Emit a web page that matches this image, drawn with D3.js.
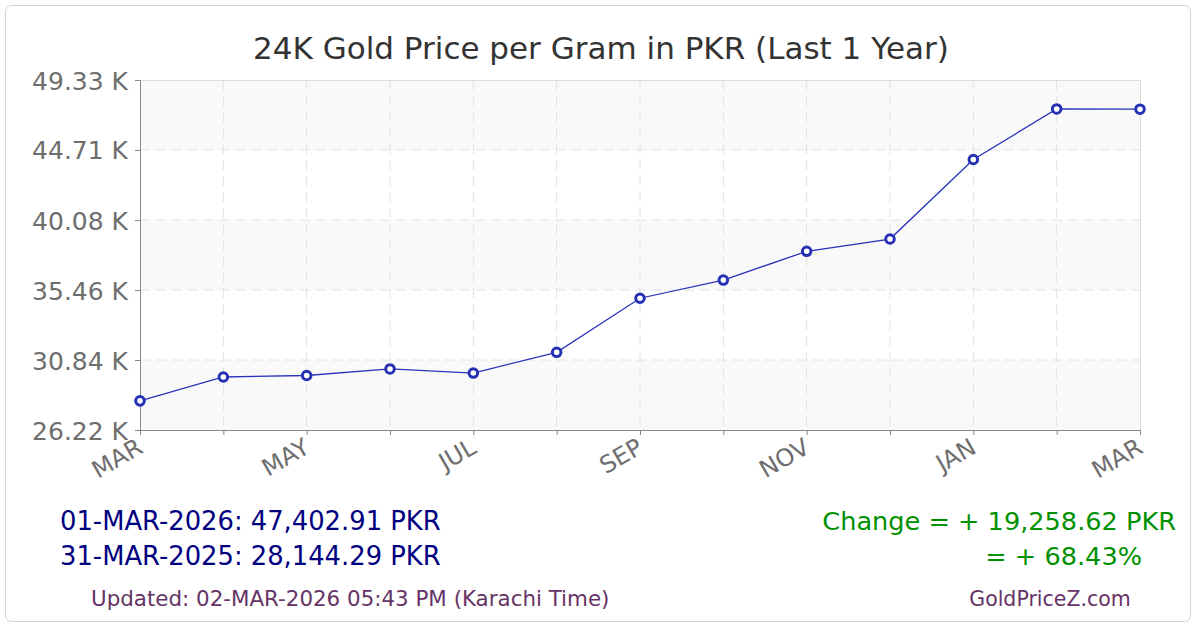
<!DOCTYPE html>
<html>
<head>
<meta charset="utf-8">
<script src="https://cdn.jsdelivr.net/npm/d3@7"></script>
<style>
  body { margin: 0; background: #fff; }
  svg { display: block; font-family: "DejaVu Sans", Verdana, sans-serif; }
</style>
</head>
<body>
<div id="chart"></div>
<script>
// monthly 24K gold price per gram, in thousands of PKR
const prices = [28.144, 29.72, 29.82, 30.25, 29.98, 31.35, 34.92, 36.12, 38.02, 38.83, 44.08, 47.42, 47.403];
const monthLabels = ["MAR", "", "MAY", "", "JUL", "", "SEP", "", "NOV", "", "JAN", "", "MAR"];
const yTicks = [26.22, 30.84, 35.46, 40.08, 44.71, 49.33];

const W = 1200, H = 630;
const margin = { top: 80, right: 60, bottom: 200, left: 140 };
const width = W - margin.left - margin.right,
    height = H - margin.top - margin.bottom;

const svg = d3.select("#chart").append("svg")
    .attr("width", W)
    .attr("height", H);

// outer frame
svg.append("rect")
    .attr("x", 5.5).attr("y", 5.5)
    .attr("width", 1185).attr("height", 616)
    .attr("rx", 6)
    .attr("fill", "#fff")
    .attr("stroke", "#d4d4d4");

svg.append("text")
    .attr("x", 601).attr("y", 59)
    .attr("text-anchor", "middle")
    .attr("font-size", 31)
    .attr("fill", "#333")
    .text("24K Gold Price per Gram in PKR (Last 1 Year)");

const g = svg.append("g")
    .attr("transform", "translate(" + margin.left + "," + margin.top + ")");

const x = d3.scaleLinear().domain([0, prices.length - 1]).range([0, width]);
const y = d3.scaleLinear().domain([yTicks[0], yTicks[yTicks.length - 1]]).range([height, 0]);

// alternating bands
for (let i = 0; i < yTicks.length - 1; i++) {
    g.append("rect")
        .attr("x", 0)
        .attr("y", y(yTicks[i + 1]))
        .attr("width", width)
        .attr("height", y(yTicks[i]) - y(yTicks[i + 1]))
        .attr("fill", i % 2 == 0 ? "#f9f9f9" : "#fff");
}

// grid
g.append("g").selectAll("line")
    .data(yTicks.slice(1, -1))
    .enter().append("line")
    .attr("x1", 0).attr("x2", width)
    .attr("y1", d => y(d)).attr("y2", d => y(d))
    .attr("stroke", "#e2e2e2")
    .attr("stroke-dasharray", "10,6");
g.append("g").selectAll("line")
    .data(d3.range(1, prices.length - 1))
    .enter().append("line")
    .attr("x1", d => x(d)).attr("x2", d => x(d))
    .attr("y1", 0).attr("y2", height)
    .attr("stroke", "#e2e2e2")
    .attr("stroke-dasharray", "10,6");

// top and right border of plot
g.append("path")
    .attr("d", "M0,0.5H" + (width + 0.5) + "V" + height)
    .attr("fill", "none")
    .attr("stroke", "#dcdcdc");

// axes
const yAxis = g.append("g")
    .call(d3.axisLeft(y).tickValues(yTicks).tickSize(5).tickPadding(7)
        .tickFormat(d => d.toFixed(2) + " K"));
const xAxis = g.append("g")
    .attr("transform", "translate(0," + height + ")")
    .call(d3.axisBottom(x).tickValues(d3.range(prices.length)).tickSize(5)
        .tickFormat(i => monthLabels[i]));

[yAxis, xAxis].forEach(a => {
    a.select(".domain").attr("stroke", "#888");
    a.selectAll(".tick line").attr("stroke", "#888");
    a.selectAll("text").attr("fill", "#6e6e6e").attr("font-family", "DejaVu Sans, sans-serif");
});
yAxis.selectAll("text").attr("font-size", 25).attr("dy", "0.36em");
xAxis.selectAll("text")
    .attr("font-size", 24)
    .attr("text-anchor", "end")
    .attr("dy", 0)
    .attr("y", 0)
    .attr("transform", "translate(4,22) rotate(-30)");

// line and markers
const line = d3.line().x((d, i) => x(i)).y(d => y(d));
g.append("path")
    .datum(prices)
    .attr("d", line)
    .attr("fill", "none")
    .attr("stroke", "#2a33bb")
    .attr("stroke-width", 1.3);
g.append("g").selectAll("circle")
    .data(prices)
    .enter().append("circle")
    .attr("cx", (d, i) => x(i))
    .attr("cy", d => y(d))
    .attr("r", 4.3)
    .attr("fill", "#fff")
    .attr("stroke", "#2630b5")
    .attr("stroke-width", 3);

// summary text
svg.append("text")
    .attr("x", 60).attr("y", 530)
    .attr("font-size", 25.8).attr("fill", "#000080")
    .text("01-MAR-2026: 47,402.91 PKR");
svg.append("text")
    .attr("x", 60).attr("y", 565)
    .attr("font-size", 25.8).attr("fill", "#000080")
    .text("31-MAR-2025: 28,144.29 PKR");
svg.append("text")
    .attr("x", 1176).attr("y", 530)
    .attr("text-anchor", "end")
    .attr("font-size", 25.6).attr("fill", "#009000")
    .text("Change = + 19,258.62 PKR");
svg.append("text")
    .attr("x", 1142).attr("y", 565)
    .attr("text-anchor", "end")
    .attr("font-size", 25.6).attr("fill", "#009000")
    .text("= + 68.43%");
svg.append("text")
    .attr("x", 91).attr("y", 606)
    .attr("font-size", 21.4).attr("fill", "#663366")
    .text("Updated: 02-MAR-2026 05:43 PM (Karachi Time)");
svg.append("text")
    .attr("x", 1050).attr("y", 606)
    .attr("text-anchor", "middle")
    .attr("font-size", 20.5).attr("fill", "#663366")
    .text("GoldPriceZ.com");
</script>
</body>
</html>
